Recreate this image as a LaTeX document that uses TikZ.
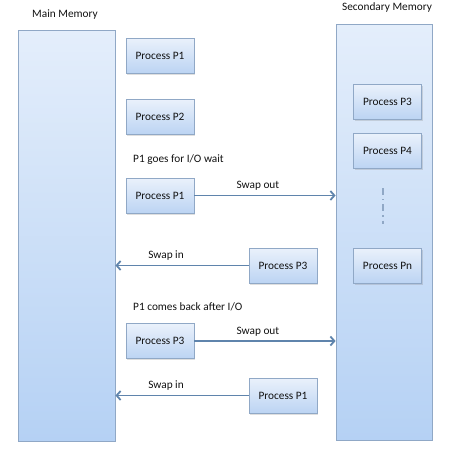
\documentclass[tikz,border=0pt]{standalone}
\usepackage{fontspec}
\setmainfont{Carlito}
\usetikzlibrary{arrows.meta,shadows}
\definecolor{memtop}{HTML}{E4EEFB}
\definecolor{membot}{HTML}{B5D1F4}
\definecolor{memedge}{HTML}{90A8C6}
\definecolor{proctop}{HTML}{EAF1FB}
\definecolor{procbot}{HTML}{BCD4F3}
\definecolor{arrowc}{HTML}{5F84AC}
\definecolor{txt}{HTML}{111111}
\tikzset{
  mem/.style={draw=memedge, line width=0.8pt, top color=memtop, bottom color=membot, minimum width=97pt, inner sep=0pt},
  proc/.style={draw=memedge, line width=0.7pt, top color=proctop, bottom color=procbot, minimum width=68pt, minimum height=35pt, inner sep=0pt, font=\fontsize{11.3}{13}\selectfont, text=txt,
    drop shadow={opacity=0.25, shadow xshift=1pt, shadow yshift=-1.5pt}},
  lbl/.style={font=\fontsize{11.3}{13}\selectfont, text=txt, inner sep=0pt},
  swap/.style={draw=arrowc, line width=1.8pt, -{Straight Barb[length=4pt,width=9pt]}}
}
\begin{document}
\begin{tikzpicture}[x=1pt,y=-1pt]
\useasboundingbox (0,0) rectangle (474,451);
% memories
\node[mem, minimum height=411pt] (mm) at (66.5,235.5) {};
\node[mem, minimum height=416pt, minimum width=96pt] (sm) at (384,232) {};
\node[lbl] (mmt) at (65,15) {Main Memory};
\node[lbl] (smt) at (387,7) {Secondary Memory};
% main memory side processes
\node[proc] (p1a) at (160,55.5) {Process P1};
\node[proc] (p2) at (160,116.5) {Process P2};
\node[lbl, anchor=west] (t1) at (133,160) {P1 goes for I/O wait};
\node[proc] (p1b) at (160,195.5) {Process P1};
\node[proc] (p3o) at (283,265.5) {Process P3};
\node[lbl, anchor=west] (t2) at (133,307) {P1 comes back after I/O};
\node[proc] (p3b) at (160,341) {Process P3};
\node[proc] (p1o) at (283,395.5) {Process P1};
% secondary processes
\node[proc] (s3) at (387.5,101.5) {Process P3};
\node[proc] (s4) at (387.5,151) {Process P4};
\node[proc] (sn) at (387.5,265.5) {Process Pn};
\coordinate (d1) at (383,188);
\coordinate (d2) at (383,224);
\draw[memedge, line width=1.3pt, dash pattern=on 7pt off 4pt on 1.3pt off 4pt] (d1) -- (d2);
% arrows
\draw[swap] (p1b.east) -- (p1b.east -| sm.west) node[pos=0.45, above=4pt, lbl] {Swap out};
\draw[swap] (p3o.west) -- (p3o.west -| mm.east) node[pos=0.62, above=4pt, lbl] {Swap in};
\draw[swap] (p3b.east) -- (p3b.east -| sm.west) node[pos=0.45, above=4pt, lbl] {Swap out};
\draw[swap] (p1o.west) -- (p1o.west -| mm.east) node[pos=0.62, above=4pt, lbl] {Swap in};
\end{tikzpicture}
\end{document}
